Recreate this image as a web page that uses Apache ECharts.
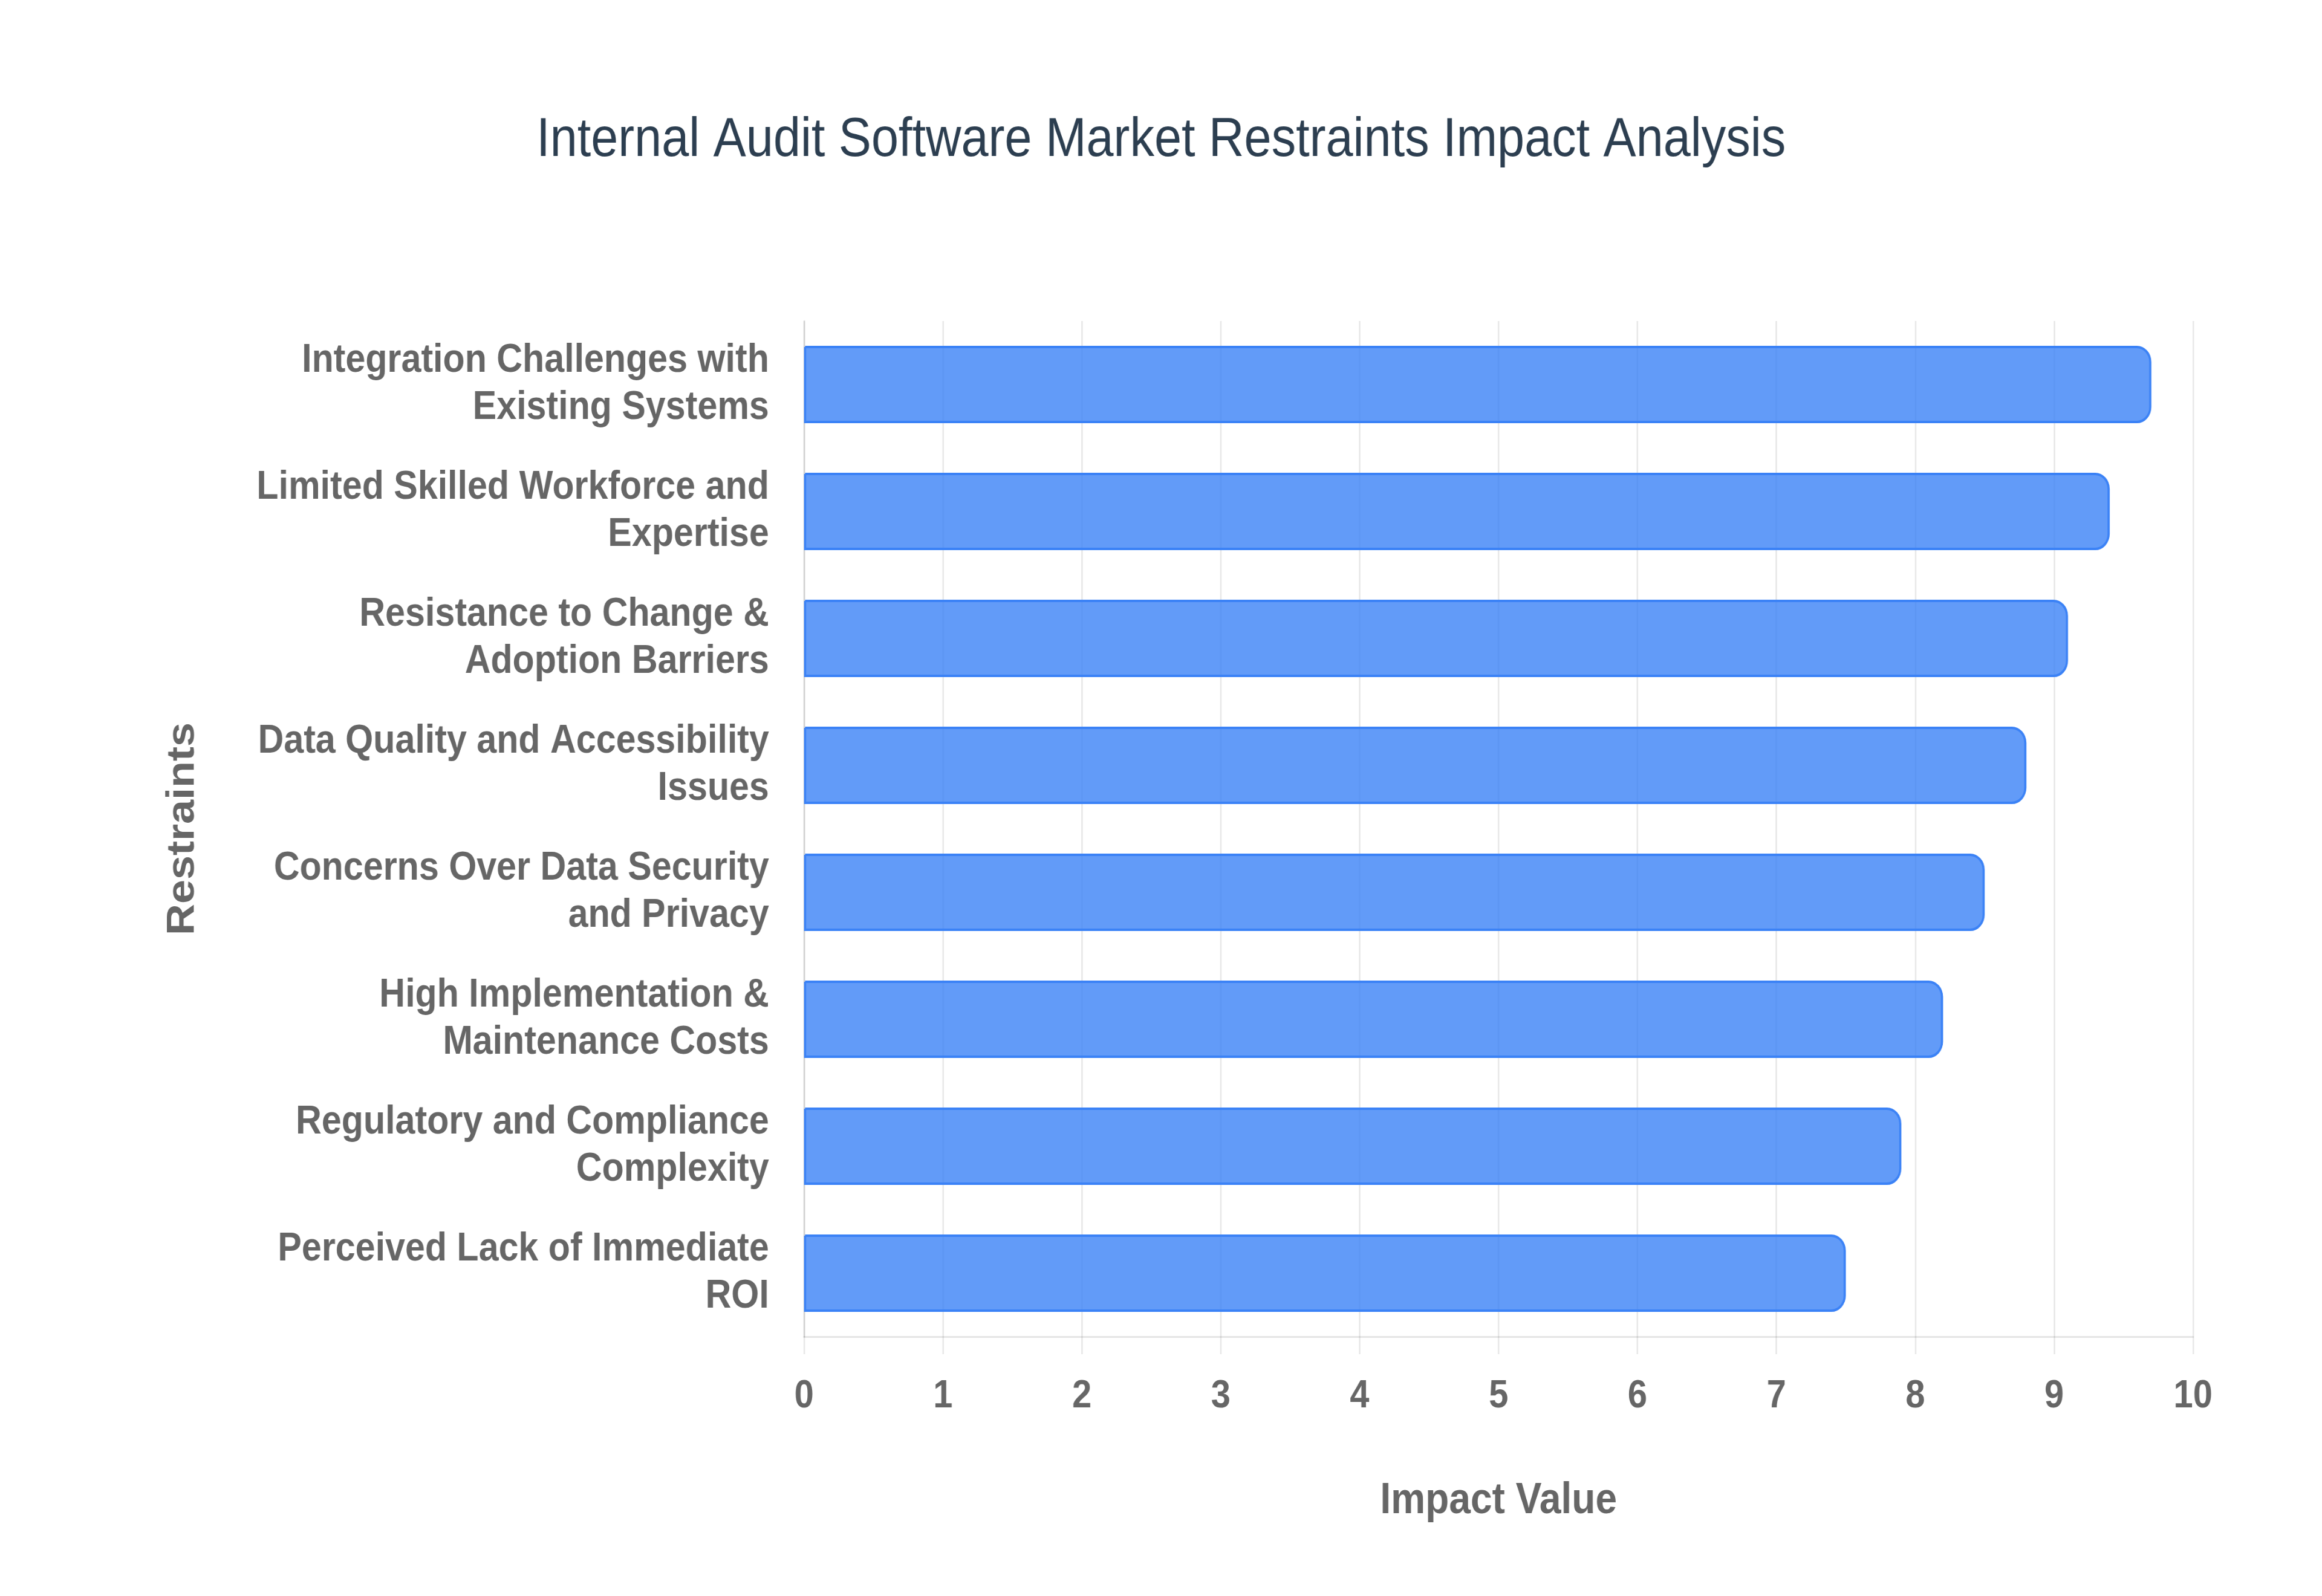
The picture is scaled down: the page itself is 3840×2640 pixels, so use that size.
<!DOCTYPE html>
<html>
<head>
<meta charset="utf-8">
<script src="https://cdn.jsdelivr.net/npm/echarts@6/dist/echarts.min.js"></script>
<style>
html, body { margin: 0; padding: 0; background: #ffffff; overflow: hidden; width: 3840px; height: 2640px; }
#chart { position: absolute; left: 0; top: 0; width: 4315px; height: 2640px; transform: scaleX(0.89); transform-origin: 0 0; }
</style>
</head>
<body>
<div id="chart"></div>
<script>
const chartTitle = 'Internal Audit Software Market Restraints Impact Analysis';
const categories = [
  'Integration Challenges with Existing Systems',
  'Limited Skilled Workforce and Expertise',
  'Resistance to Change & Adoption Barriers',
  'Data Quality and Accessibility Issues',
  'Concerns Over Data Security and Privacy',
  'High Implementation & Maintenance Costs',
  'Regulatory and Compliance Complexity',
  'Perceived Lack of Immediate ROI'
];
const impactValues = [9.7, 9.4, 9.1, 8.8, 8.5, 8.2, 7.9, 7.5];
const xAxisTitle = 'Impact Value';
const yAxisTitle = 'Restraints';

function wrapLabel(text) {
  const words = text.split(' ');
  const lines = [];
  let cur = '';
  for (const w of words) {
    const next = cur ? cur + ' ' + w : w;
    if (next.length > 30 && cur) { lines.push(cur); cur = w; }
    else cur = next;
  }
  if (cur) lines.push(cur);
  return lines.join('\n');
}

const FONT = '"Liberation Sans", Arial, Helvetica, sans-serif';
const GRID_COLOR = 'rgba(0,0,0,0.1)';

const el = document.getElementById('chart');
const chart = echarts.init(el, null, { width: 4315, height: 2640, renderer: 'canvas' });

chart.setOption({
  backgroundColor: '#ffffff',
  animation: false,
  title: {
    text: chartTitle,
    left: 'center',
    top: 182,
    textStyle: { fontFamily: FONT, fontSize: 91, fontWeight: 'normal', color: '#2c3e50' }
  },
  grid: { left: 1494, right: 240, top: 531, bottom: 429, containLabel: false },
  xAxis: {
    type: 'value',
    min: 0,
    max: 10,
    interval: 1,
    name: xAxisTitle,
    nameLocation: 'middle',
    nameGap: 236,
    nameTextStyle: { fontFamily: FONT, fontSize: 72, fontWeight: 'bold', color: '#666666' },
    axisLine: { show: true, lineStyle: { color: GRID_COLOR, width: 3 } },
    axisTick: { show: true, length: 29, lineStyle: { color: GRID_COLOR, width: 2.5 } },
    splitLine: { show: true, lineStyle: { color: GRID_COLOR, width: 2.5 } },
    axisLabel: { margin: 67, fontFamily: FONT, fontSize: 65, fontWeight: 'bold', color: '#666666' }
  },
  yAxis: {
    type: 'category',
    data: categories,
    inverse: true,
    name: yAxisTitle,
    nameLocation: 'middle',
    nameGap: 1118,
    nameRotate: 90,
    nameTextStyle: { fontFamily: FONT, fontSize: 72, fontWeight: 'bold', color: '#666666' },
    axisLine: { show: true, lineStyle: { color: GRID_COLOR, width: 3 } },
    axisTick: { show: false },
    splitLine: { show: false },
    axisLabel: {
      margin: 65,
      fontFamily: FONT,
      fontSize: 66.5,
      fontWeight: 'bold',
      color: '#666666',
      lineHeight: 78,
      align: 'right',
      formatter: (v) => wrapLabel(v)
    }
  },
  series: [{
    type: 'bar',
    data: impactValues,
    barCategoryGap: '39%',
    itemStyle: {
      color: 'rgba(59,130,246,0.8)',
      borderColor: '#3b82f6',
      borderWidth: 4,
      borderRadius: [0, 25, 25, 0]
    }
  }]
});
</script>
</body>
</html>
